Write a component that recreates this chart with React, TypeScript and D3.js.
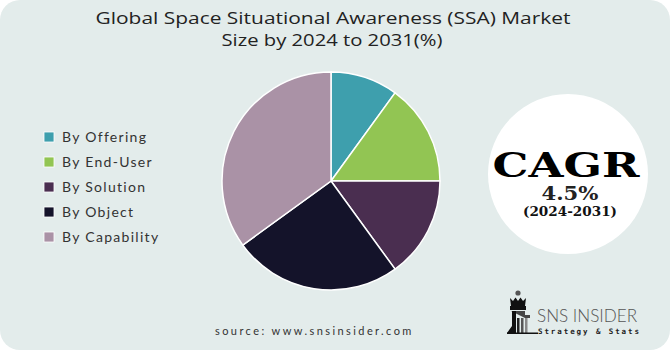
import React from "react";
import * as d3 from "d3";

const categories = ["By Offering", "By End-User", "By Solution", "By Object", "By Capability"];
const shares = [10, 15, 15, 25, 35];
const colors = ["#3e9fad", "#92c553", "#4a2e50", "#14132a", "#aa92a6"];
const titleLines = ["Global Space Situational Awareness (SSA) Market", "Size by 2024 to 2031(%)"];
const cagrValue = "4.5%";
const cagrPeriod = "(2024-2031)";
const sourceText = "source: www.snsinsider.com";

export default function App() {
  const W = 670, H = 350;
  const cx = 331, cy = 181, r = 109;
  const pie = d3.pie<number>().sort(null).value((d) => d)(shares);
  const arc = d3.arc<d3.PieArcDatum<number>>().innerRadius(0).outerRadius(r);
  const legendY = d3.scalePoint<string>().domain(categories).range([137, 237]);

  return (
    <svg width={W} height={H} style={{ position: "fixed", left: 0, top: 0, display: "block" }}>
      <rect x={0} y={0} width={W} height={H} fill="#ffffff" />
      <rect x={0} y={0} width={W} height={H} rx={20} ry={20} fill="#e3eceb" />
      <text textAnchor="middle" fontFamily="'Open Sans', sans-serif" fontWeight={500} fontSize={15.5} fill="#222">
        <tspan x={333} y={24} textLength={475} lengthAdjust="spacingAndGlyphs">{titleLines[0]}</tspan>
        <tspan x={332} y={46} textLength={221} lengthAdjust="spacingAndGlyphs">{titleLines[1]}</tspan>
      </text>
      <g transform={`translate(${cx},${cy})`}>
        {pie.map((d, i) => (
          <path key={i} d={arc(d) || ""} fill={colors[i]} stroke="#ffffff" strokeWidth={1.5} />
        ))}
      </g>
      <g>
        {categories.map((c, i) => (
          <g key={c} transform={`translate(44,${legendY(c)})`}>
            <rect x={0} y={-5} width={10} height={10} fill={colors[i]} stroke="#ffffff" strokeWidth={0.8} />
            <text x={18} y={5} fontFamily="Lato, sans-serif" fontSize={14} fill="#333" letterSpacing={1.3}>{c}</text>
          </g>
        ))}
      </g>
      <circle cx={568} cy={174} r={80} fill="#ffffff" />
      <text x={566} y={177} textAnchor="middle" fontFamily="'DejaVu Serif', serif" fontWeight={900} fontSize={34} fill="#000" textLength={147} lengthAdjust="spacingAndGlyphs">CAGR</text>
      <text x={570} y={200} textAnchor="middle" fontFamily="'DejaVu Serif', serif" fontWeight={700} fontSize={18} fill="#222" textLength={57} lengthAdjust="spacingAndGlyphs">{cagrValue}</text>
      <text x={570} y={216} textAnchor="middle" fontFamily="'DejaVu Serif', serif" fontWeight={700} fontSize={12.5} fill="#111" textLength={94} lengthAdjust="spacingAndGlyphs">{cagrPeriod}</text>
      <text x={215} y={335} fontFamily="Lato, sans-serif" fontSize={11} fill="#333" letterSpacing={1.6} textLength={198}>{sourceText}</text>
      <g>
        <circle cx={518} cy={293} r={2.6} fill="#555" />
        <path d="M510,298 L513,301 L515.5,297.5 L518,301 L520.5,297.5 L523,301 L526,298 L525,306 L511,306 Z" fill="#111" />
        <rect x={510} y={306} width={16} height={4} fill="#111" />
        <path d="M511,311 L525,311 L525,315 L530,315 L530,318 L525,318 Z" fill="#444" />
        <path d="M512,311 L516,311 L516,333 L507,333 L512,326 Z" fill="#111" />
        <rect x={517} y={318} width={2.5} height={15} fill="#222" />
        <rect x={521} y={318} width={2.5} height={15} fill="#555" />
        <rect x={525} y={318} width={2.5} height={15} fill="#888" />
        <rect x={507} y={332.5} width={31} height={1.5} fill="#111" />
      </g>
      <text x={537} y={322} fontFamily="Lato, sans-serif" fontWeight={300} fontSize={17} fill="#555" textLength={100} lengthAdjust="spacingAndGlyphs">SNS INSIDER</text>
      <text x={538} y={334} fontFamily="'DejaVu Sans Mono', monospace" fontWeight={700} fontSize={7.5} fill="#222" textLength={101} lengthAdjust="spacing">Strategy &amp; Stats</text>
    </svg>
  );
}
